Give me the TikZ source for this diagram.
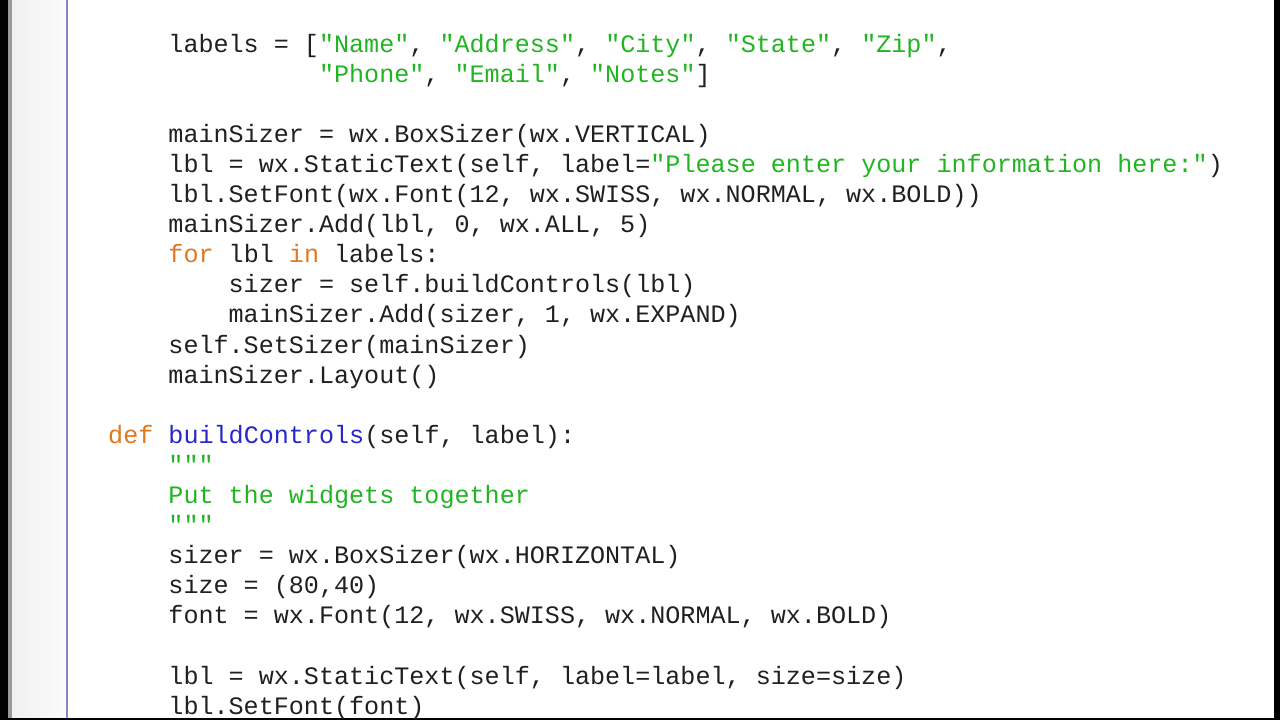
\documentclass[tikz,border=0pt]{standalone}
\usepackage{fontspec}
\newfontfamily\codefont{Liberation Mono}
\definecolor{strc}{HTML}{22B422}
\definecolor{kwc}{HTML}{E07820}
\definecolor{fnc}{HTML}{2828C8}
\definecolor{txc}{HTML}{202020}
\newcommand{\gs}[1]{\textcolor{strc}{#1}}
\newcommand{\kw}[1]{\textcolor{kwc}{#1}}
\newcommand{\fnm}[1]{\textcolor{fnc}{#1}}
\tikzset{codeln/.style={anchor=base west,inner sep=0pt,font=\codefont\fontsize{25.1}{30}\selectfont,text=txc}}
\begin{document}
\begin{tikzpicture}[x=1pt,y=-1pt]
\useasboundingbox (0,0) rectangle (1280,720);
\fill[white] (0,0) rectangle (1280,720);
\fill[black] (0,0) rectangle (8,720);
\fill[gray!80] (8,0) rectangle (12,720);
\shade[left color=gray!12,right color=gray!3] (12,0) rectangle (66,720);
\fill[blue!35!gray!70] (66,0) rectangle (68,720);
\fill[black] (1274,0) rectangle (1280,720);
\fill[black] (0,718) rectangle (1280,720);
\def\cw{15.06}
\newcommand{\codeline}[3]{\node[codeln] (l#1) at ({108+#2*\cw},{52+30.1*#1}) {#3};}
\codeline{0}{4}{labels = [\gs{"Name"}, \gs{"Address"}, \gs{"City"}, \gs{"State"}, \gs{"Zip"},}
\codeline{1}{14}{\gs{"Phone"}, \gs{"Email"}, \gs{"Notes"}]}
\codeline{3}{4}{mainSizer = wx.BoxSizer(wx.VERTICAL)}
\codeline{4}{4}{lbl = wx.StaticText(self, label=\gs{"Please enter your information here:"})}
\codeline{5}{4}{lbl.SetFont(wx.Font(12, wx.SWISS, wx.NORMAL, wx.BOLD))}
\codeline{6}{4}{mainSizer.Add(lbl, 0, wx.ALL, 5)}
\codeline{7}{4}{\kw{for} lbl \kw{in} labels:}
\codeline{8}{8}{sizer = self.buildControls(lbl)}
\codeline{9}{8}{mainSizer.Add(sizer, 1, wx.EXPAND)}
\codeline{10}{4}{self.SetSizer(mainSizer)}
\codeline{11}{4}{mainSizer.Layout()}
\codeline{13}{0}{\kw{def} \fnm{buildControls}(self, label):}
\codeline{14}{4}{\gs{"""}}
\codeline{15}{4}{\gs{Put the widgets together}}
\codeline{16}{4}{\gs{"""}}
\codeline{17}{4}{sizer = wx.BoxSizer(wx.HORIZONTAL)}
\codeline{18}{4}{size = (80,40)}
\codeline{19}{4}{font = wx.Font(12, wx.SWISS, wx.NORMAL, wx.BOLD)}
\codeline{21}{4}{lbl = wx.StaticText(self, label=label, size=size)}
\codeline{22}{4}{lbl.SetFont(font)}
\end{tikzpicture}
\end{document}
